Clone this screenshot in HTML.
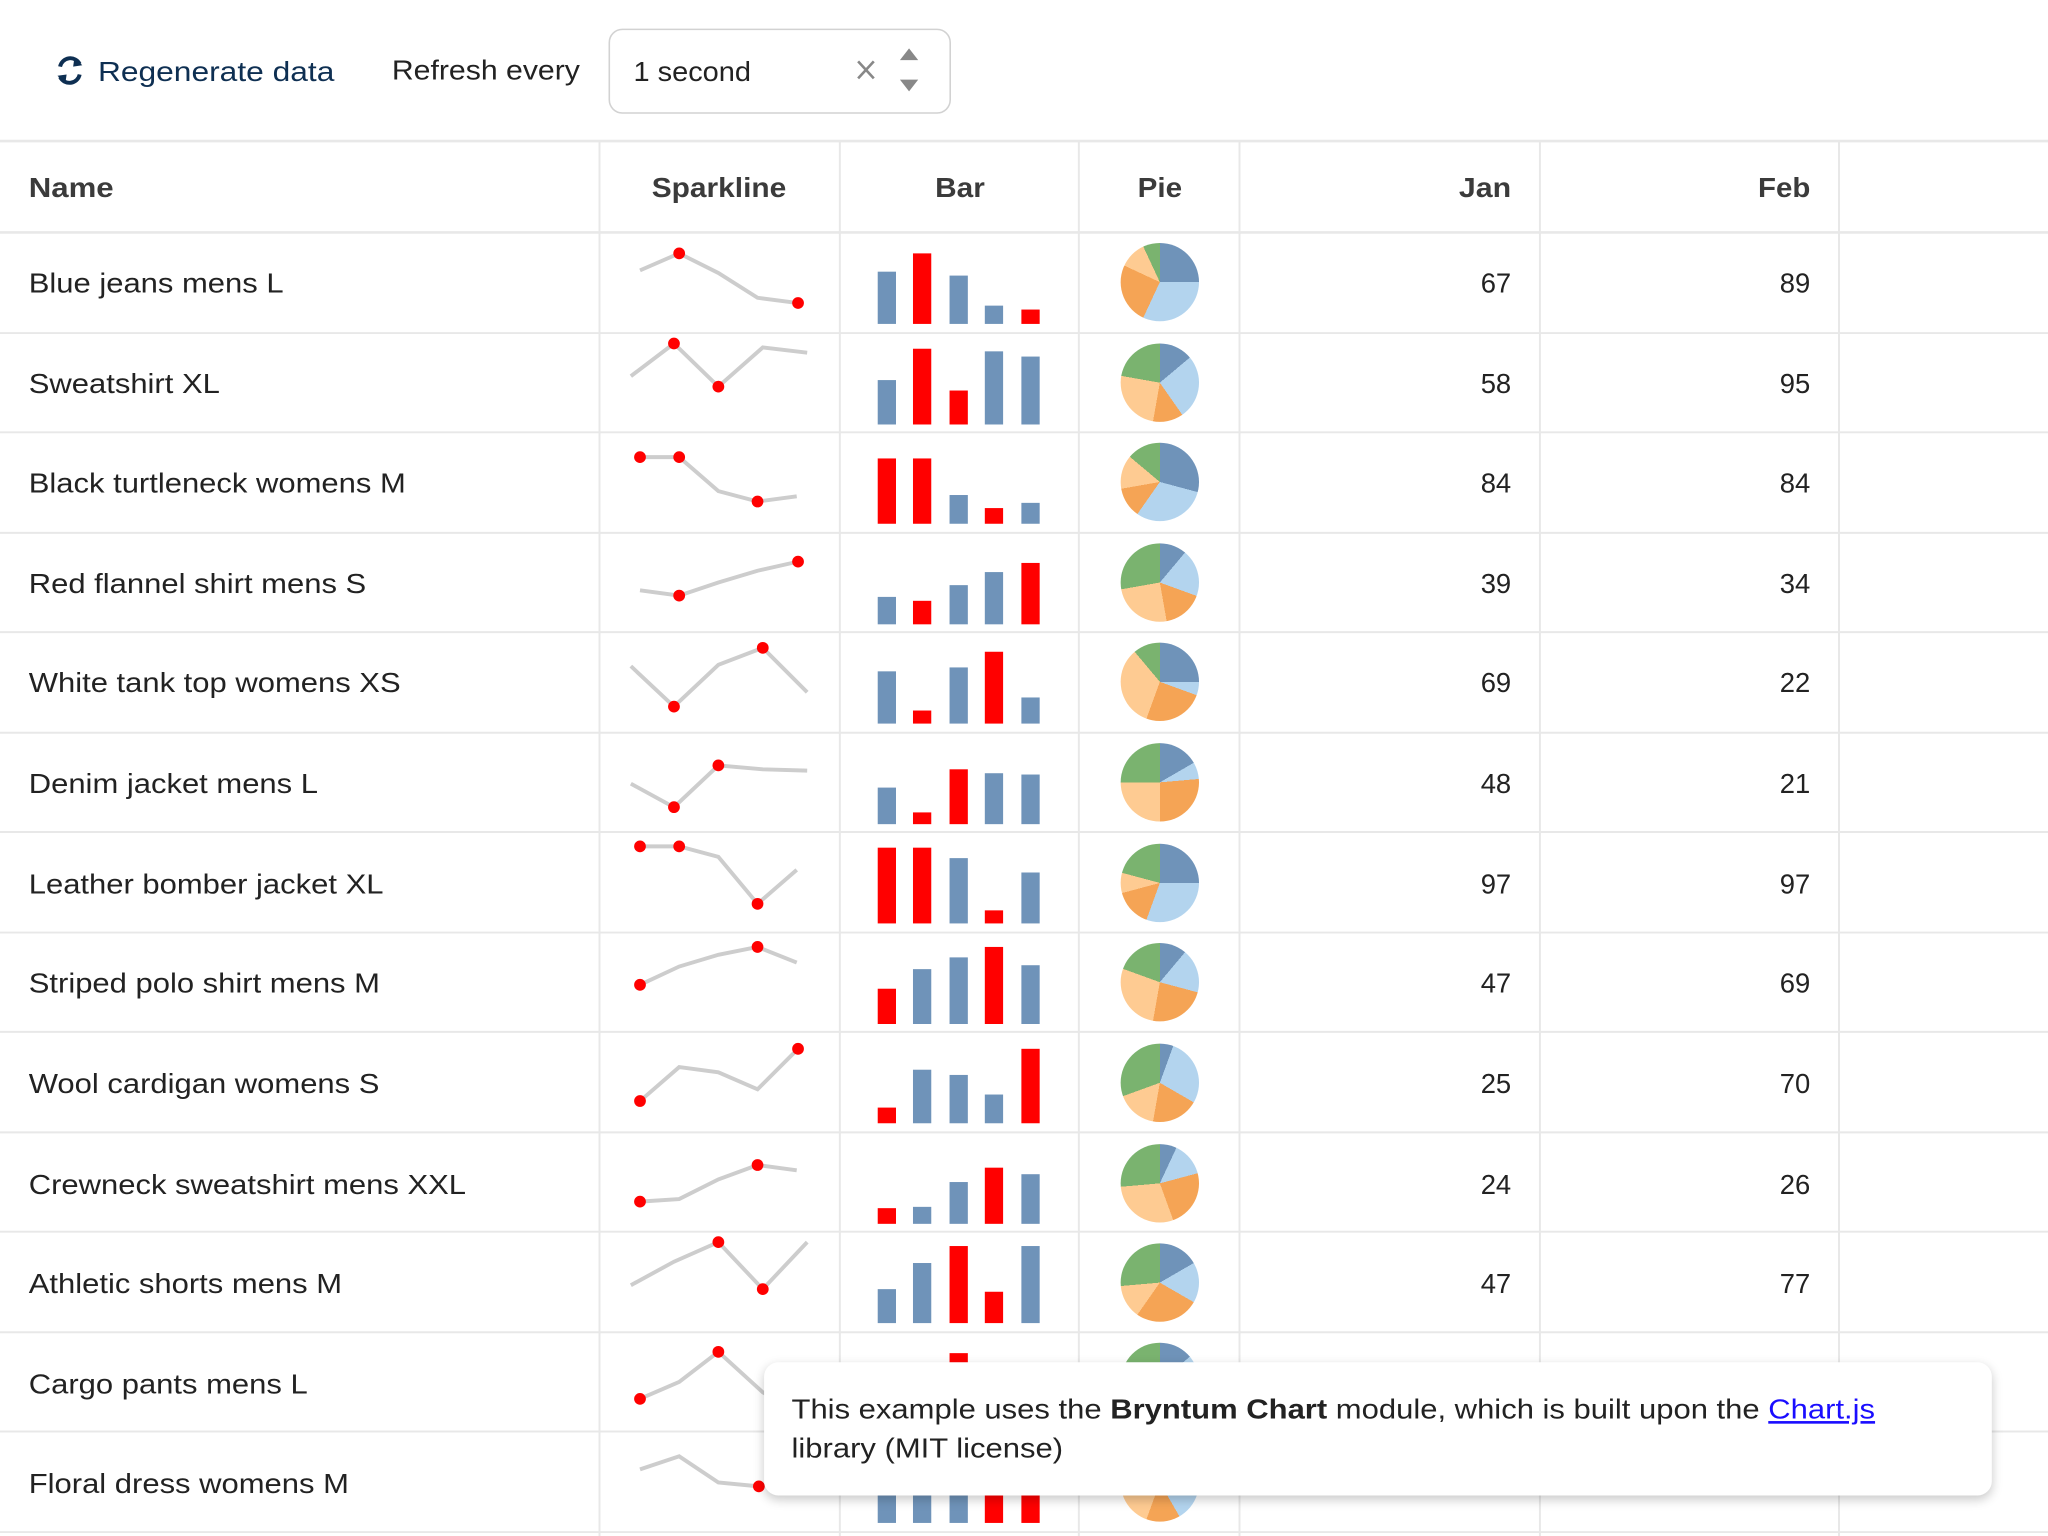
<!DOCTYPE html>
<html><head><meta charset="utf-8"><style>
html,body{margin:0;padding:0;background:#fff;overflow:hidden}
#wrap{position:absolute;left:0;top:0;width:1568px;height:1176px;transform:scale(1.30612);transform-origin:0 0;font-family:"Liberation Sans",sans-serif}
svg{position:absolute;left:0;top:0}
.pie{position:absolute;width:60px;height:60px;border-radius:50%}
#tip{position:absolute;left:585px;top:1043px;width:940px;height:102px;background:#fff;border-radius:11px;box-shadow:0 3px 8px rgba(0,0,0,0.22);box-sizing:border-box;padding:22px 21px;font-size:21px;line-height:30px;color:#222}
#tip div{transform:scaleX(1.13);transform-origin:0 0;white-space:nowrap}
#tip a{color:#1a0dff;text-decoration:underline}
</style></head><body><div id="wrap">
<svg width="1568" height="1176" viewBox="0 0 1568 1176">
<g stroke="#e8e8e8" stroke-width="1.5">
<line x1="0" y1="108" x2="1568" y2="108" stroke-width="2"/>
<line x1="0" y1="178" x2="1568" y2="178" stroke-width="2"/>
<line x1="0" y1="255" x2="1568" y2="255"/><line x1="0" y1="331" x2="1568" y2="331"/>
<line x1="0" y1="408" x2="1568" y2="408"/><line x1="0" y1="484" x2="1568" y2="484"/>
<line x1="0" y1="561" x2="1568" y2="561"/><line x1="0" y1="637" x2="1568" y2="637"/>
<line x1="0" y1="714" x2="1568" y2="714"/><line x1="0" y1="790" x2="1568" y2="790"/>
<line x1="0" y1="867" x2="1568" y2="867"/><line x1="0" y1="943" x2="1568" y2="943"/>
<line x1="0" y1="1020" x2="1568" y2="1020"/><line x1="0" y1="1096" x2="1568" y2="1096"/>
<line x1="0" y1="1173" x2="1568" y2="1173"/>
<line x1="459" y1="108" x2="459" y2="1176"/><line x1="643" y1="108" x2="643" y2="1176"/>
<line x1="826" y1="108" x2="826" y2="1176"/><line x1="949" y1="108" x2="949" y2="1176"/>
<line x1="1179" y1="108" x2="1179" y2="1176"/><line x1="1408" y1="108" x2="1408" y2="1176"/>
</g>
<!-- toolbar -->
<g fill="none" stroke="#0e2f52" stroke-width="3">
<path d="M61 49 A8 8 0 0 0 46 51"/><path d="M46 59 A8 8 0 0 0 61 57"/>
</g>
<path d="M57 44 L63 50 L56 51 Z" fill="#0e2f52"/><path d="M50 64 L44 58 L51 57 Z" fill="#0e2f52"/>
<text x="75" y="62" font-size="21" fill="#0e2f52" textLength="181" lengthAdjust="spacingAndGlyphs">Regenerate data</text>
<text x="300" y="61" font-size="21" fill="#222" textLength="144" lengthAdjust="spacingAndGlyphs">Refresh every</text>
<rect x="466.5" y="22.5" width="261" height="64" rx="10" fill="#fff" stroke="#d2d2d2" stroke-width="1.2"/>
<text x="485" y="62" font-size="21" fill="#222" textLength="90" lengthAdjust="spacingAndGlyphs">1 second</text>
<path d="M657 47 L669 60 M669 47 L657 60" stroke="#888" stroke-width="2"/>
<path d="M689 46 L696 37 L703 46 Z M689 61 L696 70 L703 61 Z" fill="#888"/>
<!-- header -->
<g font-size="21" font-weight="bold" fill="#3b3b3b">
<text x="22" y="151" textLength="65" lengthAdjust="spacingAndGlyphs">Name</text>
<text x="499" y="151" textLength="103" lengthAdjust="spacingAndGlyphs">Sparkline</text>
<text x="716" y="151" textLength="38" lengthAdjust="spacingAndGlyphs">Bar</text>
<text x="871" y="151" textLength="34" lengthAdjust="spacingAndGlyphs">Pie</text>
<text x="1117" y="151" textLength="40" lengthAdjust="spacingAndGlyphs">Jan</text>
<text x="1346" y="151" textLength="40" lengthAdjust="spacingAndGlyphs">Feb</text>
</g>
<g font-size="21" fill="#222" transform="translate(22,0) scale(1.13,1)">
<text x="0" y="224">Blue jeans mens L</text>
<text x="0" y="301">Sweatshirt XL</text>
<text x="0" y="377">Black turtleneck womens M</text>
<text x="0" y="454">Red flannel shirt mens S</text>
<text x="0" y="530">White tank top womens XS</text>
<text x="0" y="607">Denim jacket mens L</text>
<text x="0" y="684">Leather bomber jacket XL</text>
<text x="0" y="760">Striped polo shirt mens M</text>
<text x="0" y="837">Wool cardigan womens S</text>
<text x="0" y="914">Crewneck sweatshirt mens XXL</text>
<text x="0" y="990">Athletic shorts mens M</text>
<text x="0" y="1067">Cargo pants mens L</text>
<text x="0" y="1143">Floral dress womens M</text>
</g>
<g font-size="21" fill="#222" text-anchor="end">
<text x="1157" y="224">67</text><text x="1386" y="224">89</text>
<text x="1157" y="301">58</text><text x="1386" y="301">95</text>
<text x="1157" y="377">84</text><text x="1386" y="377">84</text>
<text x="1157" y="454">39</text><text x="1386" y="454">34</text>
<text x="1157" y="530">69</text><text x="1386" y="530">22</text>
<text x="1157" y="607">48</text><text x="1386" y="607">21</text>
<text x="1157" y="684">97</text><text x="1386" y="684">97</text>
<text x="1157" y="760">47</text><text x="1386" y="760">69</text>
<text x="1157" y="837">25</text><text x="1386" y="837">70</text>
<text x="1157" y="914">24</text><text x="1386" y="914">26</text>
<text x="1157" y="990">47</text><text x="1386" y="990">77</text>
</g>
<!-- sparklines -->
<g fill="none" stroke="#cdcdcd" stroke-width="3">
<polyline points="490,207 520,194 550,209 580,228 611,232"/>
<polyline points="483,288 516,263 550,296 584,266 618,270"/>
<polyline points="490,350 520,350 550,376 580,384 610,380"/>
<polyline points="490,452 520,456 550,446 580,437 611,430"/>
<polyline points="483,510 516,541 550,509 584,496 618,530"/>
<polyline points="483,600 516,618 550,586 584,589 618,590"/>
<polyline points="490,648 520,648 550,656 580,692 610,666"/>
<polyline points="490,754 520,740 550,731 580,725 610,737"/>
<polyline points="490,843 520,817 550,821 580,834 611,803"/>
<polyline points="490,920 520,918 550,903 580,892 610,896"/>
<polyline points="483,984 516,966 550,951 584,987 618,951"/>
<polyline points="490,1071 520,1058 550,1035 584,1066 610,1080"/>
<polyline points="490,1125 520,1115 550,1135 581,1138"/>
</g>
<g fill="#ff0000">
<circle cx="520" cy="194" r="4.5"/><circle cx="611" cy="232" r="4.5"/>
<circle cx="516" cy="263" r="4.5"/><circle cx="550" cy="296" r="4.5"/>
<circle cx="490" cy="350" r="4.5"/><circle cx="520" cy="350" r="4.5"/><circle cx="580" cy="384" r="4.5"/>
<circle cx="520" cy="456" r="4.5"/><circle cx="611" cy="430" r="4.5"/>
<circle cx="516" cy="541" r="4.5"/><circle cx="584" cy="496" r="4.5"/>
<circle cx="516" cy="618" r="4.5"/><circle cx="550" cy="586" r="4.5"/>
<circle cx="490" cy="648" r="4.5"/><circle cx="520" cy="648" r="4.5"/><circle cx="580" cy="692" r="4.5"/>
<circle cx="490" cy="754" r="4.5"/><circle cx="580" cy="725" r="4.5"/>
<circle cx="490" cy="843" r="4.5"/><circle cx="611" cy="803" r="4.5"/>
<circle cx="490" cy="920" r="4.5"/><circle cx="580" cy="892" r="4.5"/>
<circle cx="550" cy="951" r="4.5"/><circle cx="584" cy="987" r="4.5"/>
<circle cx="490" cy="1071" r="4.5"/><circle cx="550" cy="1035" r="4.5"/>
<circle cx="581" cy="1138" r="4.5"/>
</g>
<g>
<rect x="672" y="208" width="14" height="40" fill="#6f93b9"/><rect x="699" y="194" width="14" height="54" fill="#f00"/><rect x="727" y="211" width="14" height="37" fill="#6f93b9"/><rect x="754" y="234" width="14" height="14" fill="#6f93b9"/><rect x="782" y="237" width="14" height="11" fill="#f00"/>
<rect x="672" y="291" width="14" height="34" fill="#6f93b9"/><rect x="699" y="267" width="14" height="58" fill="#f00"/><rect x="727" y="299" width="14" height="26" fill="#f00"/><rect x="754" y="269" width="14" height="56" fill="#6f93b9"/><rect x="782" y="273" width="14" height="52" fill="#6f93b9"/>
<rect x="672" y="351" width="14" height="50" fill="#f00"/><rect x="699" y="351" width="14" height="50" fill="#f00"/><rect x="727" y="379" width="14" height="22" fill="#6f93b9"/><rect x="754" y="389" width="14" height="12" fill="#f00"/><rect x="782" y="385" width="14" height="16" fill="#6f93b9"/>
<rect x="672" y="457" width="14" height="21" fill="#6f93b9"/><rect x="699" y="460" width="14" height="18" fill="#f00"/><rect x="727" y="448" width="14" height="30" fill="#6f93b9"/><rect x="754" y="438" width="14" height="40" fill="#6f93b9"/><rect x="782" y="431" width="14" height="47" fill="#f00"/>
<rect x="672" y="514" width="14" height="40" fill="#6f93b9"/><rect x="699" y="544" width="14" height="10" fill="#f00"/><rect x="727" y="511" width="14" height="43" fill="#6f93b9"/><rect x="754" y="499" width="14" height="55" fill="#f00"/><rect x="782" y="534" width="14" height="20" fill="#6f93b9"/>
<rect x="672" y="603" width="14" height="28" fill="#6f93b9"/><rect x="699" y="622" width="14" height="9" fill="#f00"/><rect x="727" y="589" width="14" height="42" fill="#f00"/><rect x="754" y="592" width="14" height="39" fill="#6f93b9"/><rect x="782" y="593" width="14" height="38" fill="#6f93b9"/>
<rect x="672" y="649" width="14" height="58" fill="#f00"/><rect x="699" y="649" width="14" height="58" fill="#f00"/><rect x="727" y="657" width="14" height="50" fill="#6f93b9"/><rect x="754" y="697" width="14" height="10" fill="#f00"/><rect x="782" y="668" width="14" height="39" fill="#6f93b9"/>
<rect x="672" y="757" width="14" height="27" fill="#f00"/><rect x="699" y="742" width="14" height="42" fill="#6f93b9"/><rect x="727" y="733" width="14" height="51" fill="#6f93b9"/><rect x="754" y="725" width="14" height="59" fill="#f00"/><rect x="782" y="739" width="14" height="45" fill="#6f93b9"/>
<rect x="672" y="848" width="14" height="12" fill="#f00"/><rect x="699" y="819" width="14" height="41" fill="#6f93b9"/><rect x="727" y="823" width="14" height="37" fill="#6f93b9"/><rect x="754" y="838" width="14" height="22" fill="#6f93b9"/><rect x="782" y="803" width="14" height="57" fill="#f00"/>
<rect x="672" y="925" width="14" height="12" fill="#f00"/><rect x="699" y="924" width="14" height="13" fill="#6f93b9"/><rect x="727" y="905" width="14" height="32" fill="#6f93b9"/><rect x="754" y="894" width="14" height="43" fill="#f00"/><rect x="782" y="899" width="14" height="38" fill="#6f93b9"/>
<rect x="672" y="987" width="14" height="26" fill="#6f93b9"/><rect x="699" y="967" width="14" height="46" fill="#6f93b9"/><rect x="727" y="954" width="14" height="59" fill="#f00"/><rect x="754" y="989" width="14" height="24" fill="#f00"/><rect x="782" y="954" width="14" height="59" fill="#6f93b9"/>
<rect x="727" y="1036" width="14" height="60" fill="#f00"/>
<rect x="672" y="1120" width="14" height="46" fill="#6f93b9"/><rect x="699" y="1120" width="14" height="46" fill="#6f93b9"/><rect x="727" y="1120" width="14" height="46" fill="#6f93b9"/><rect x="754" y="1120" width="14" height="46" fill="#f00"/><rect x="782" y="1120" width="14" height="46" fill="#f00"/>
</g>
</svg>
<div class="pie" style="left:858px;top:186px;background:conic-gradient(#6f93b9 0 90deg,#b3d4ee 90deg 205deg,#f5a455 205deg 295deg,#fecb92 295deg 335deg,#7ab36f 335deg 360deg)"></div>
<div class="pie" style="left:858px;top:263px;background:conic-gradient(#6f93b9 0 50deg,#b3d4ee 50deg 145deg,#f5a455 145deg 190deg,#fecb92 190deg 280deg,#7ab36f 280deg 360deg)"></div>
<div class="pie" style="left:858px;top:339px;background:conic-gradient(#6f93b9 0 105deg,#b3d4ee 105deg 215deg,#f5a455 215deg 260deg,#fecb92 260deg 310deg,#7ab36f 310deg 360deg)"></div>
<div class="pie" style="left:858px;top:416px;background:conic-gradient(#6f93b9 0 40deg,#b3d4ee 40deg 110deg,#f5a455 110deg 170deg,#fecb92 170deg 260deg,#7ab36f 260deg 360deg)"></div>
<div class="pie" style="left:858px;top:492px;background:conic-gradient(#6f93b9 0 90deg,#b3d4ee 90deg 110deg,#f5a455 110deg 200deg,#fecb92 200deg 320deg,#7ab36f 320deg 360deg)"></div>
<div class="pie" style="left:858px;top:569px;background:conic-gradient(#6f93b9 0 60deg,#b3d4ee 60deg 85deg,#f5a455 85deg 180deg,#fecb92 180deg 270deg,#7ab36f 270deg 360deg)"></div>
<div class="pie" style="left:858px;top:646px;background:conic-gradient(#6f93b9 0 90deg,#b3d4ee 90deg 200deg,#f5a455 200deg 255deg,#fecb92 255deg 285deg,#7ab36f 285deg 360deg)"></div>
<div class="pie" style="left:858px;top:722px;background:conic-gradient(#6f93b9 0 40deg,#b3d4ee 40deg 105deg,#f5a455 105deg 190deg,#fecb92 190deg 290deg,#7ab36f 290deg 360deg)"></div>
<div class="pie" style="left:858px;top:799px;background:conic-gradient(#6f93b9 0 20deg,#b3d4ee 20deg 120deg,#f5a455 120deg 190deg,#fecb92 190deg 250deg,#7ab36f 250deg 360deg)"></div>
<div class="pie" style="left:858px;top:876px;background:conic-gradient(#6f93b9 0 25deg,#b3d4ee 25deg 75deg,#f5a455 75deg 160deg,#fecb92 160deg 265deg,#7ab36f 265deg 360deg)"></div>
<div class="pie" style="left:858px;top:952px;background:conic-gradient(#6f93b9 0 60deg,#b3d4ee 60deg 120deg,#f5a455 120deg 215deg,#fecb92 215deg 265deg,#7ab36f 265deg 360deg)"></div>
<div class="pie" style="left:858px;top:1028px;background:conic-gradient(#6f93b9 0 50deg,#b3d4ee 50deg 130deg,#f5a455 130deg 200deg,#fecb92 200deg 270deg,#7ab36f 270deg 360deg)"></div>
<div class="pie" style="left:858px;top:1105px;background:conic-gradient(#6f93b9 0 60deg,#b3d4ee 60deg 150deg,#f5a455 150deg 200deg,#fecb92 200deg 260deg,#7ab36f 260deg 360deg)"></div>
<div id="tip"><div>This example uses the <b>Bryntum Chart</b> module, which is built upon the <a>Chart.js</a><br>library (MIT license)</div></div>
</div></body></html>
